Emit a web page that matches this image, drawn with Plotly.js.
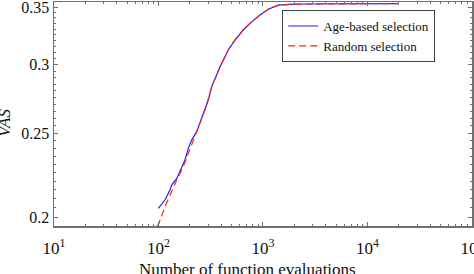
<!DOCTYPE html>
<html><head><meta charset="utf-8">
<script src="https://cdn.plot.ly/plotly-3.0.1.min.js"></script>
<style>html,body{margin:0;padding:0;background:#fff}#chart{width:474px;height:274px}</style>
</head><body><div id="chart"></div>
<script>
// Data
const ageX = [99.5,115.4,128.8,133.8,149.4,166.7,179.3,192.9,207.8,232.1,259.0,280.0,299.7,322.9,387.8,465.6,539.6,647.7,750.8,936.1,1123.5,1401,1800,2500,4000,8000,20000];
const ageY = [0.2047,0.2093,0.2149,0.2178,0.2217,0.2277,0.2328,0.2402,0.2456,0.2511,0.2602,0.2672,0.2732,0.2830,0.2985,0.3121,0.3205,0.3292,0.3351,0.3426,0.3479,0.3517,0.3525,0.3528,0.3530,0.3531,0.3532];
const randX = [96.7,99.5,115.4,128.8,149.4,172.7,192.9,215.3,240.4,278.6,322.9,387.8,465.6,539.6,647.7,750.8,936.1,1123.5,1401,1800,2500,4000,8000,20000];
const randY = [0.1953,0.1958,0.2056,0.2121,0.2207,0.2287,0.2370,0.2456,0.2533,0.2660,0.2828,0.2983,0.3123,0.3207,0.3293,0.3352,0.3427,0.3480,0.3516,0.3525,0.3528,0.3530,0.3531,0.3532];
const xTickVals = [10,100,1000,10000,100000];
const xTickText = ['10<sup>1</sup>','10<sup>2</sup>','10<sup>3</sup>','10<sup>4</sup>','10<sup>5</sup>'];
const yTickVals = [0.2,0.25,0.3,0.35];
const yTickText = ['0.2','0.25','0.3','0.35'];
const seriesNames = ['Age-based selection','Random selection'];
const xTitle = 'Number of function evaluations';
const yTitle = '<i>VAS</i>';

// minor tick positions (style)
const xMinor = [];
for (let e = 1; e < 5; e++) for (let d = 2; d <= 9; d++) xMinor.push(d * Math.pow(10, e));
const yMinor = [];
for (let v = 0.195; v < 0.356; v += 0.005) yMinor.push(+v.toFixed(3));

const font = 'Liberation Serif, Times New Roman, serif';
const axisCol = '#707070';

const traces = [
  {x: ageX, y: ageY, name: seriesNames[0], type: 'scatter', mode: 'lines',
   line: {color: '#2020ee', width: 1.2}},
  {x: randX, y: randY, name: seriesNames[1], type: 'scatter', mode: 'lines',
   line: {color: '#ff2020', width: 1.2, dash: '7px,4px'}}
];

const layout = {
  width: 474, height: 274,
  margin: {l: 54, r: 2, t: 2, b: 48},
  paper_bgcolor: '#fff', plot_bgcolor: '#fff',
  font: {family: font, color: '#111', size: 16},
  showlegend: true,
  legend: {x: 0.546, y: 0.964, xanchor: 'left', yanchor: 'top',
    bordercolor: '#444', borderwidth: 1, bgcolor: '#fff',
    font: {family: font, size: 13, color: '#111'}},
  xaxis: {type: 'log', range: [1, 5.0001], tickvals: xTickVals, ticktext: xTickText,
    ticks: 'inside', ticklen: 4, tickcolor: axisCol, showgrid: false, zeroline: false,
    showline: true, linecolor: axisCol, linewidth: 1.5, mirror: 'allticks',
    ticklabeloverflow: 'allow', ticklabelstandoff: 6,
    tickfont: {family: font, size: 17, color: '#111'},
    minor: {tickvals: xMinor, ticks: 'inside', ticklen: 2, tickcolor: axisCol, showgrid: false}},
  yaxis: {type: 'log', range: [Math.log10(0.1953), Math.log10(0.3547)],
    tickvals: yTickVals, ticktext: yTickText,
    ticks: 'inside', ticklen: 4, tickcolor: axisCol, showgrid: false, zeroline: false,
    showline: true, linecolor: axisCol, linewidth: 1.5, mirror: 'allticks',
    ticklabeloverflow: 'allow',
    tickfont: {family: font, size: 16, color: '#111'},
    minor: {tickvals: yMinor, ticks: 'inside', ticklen: 2, tickcolor: axisCol, showgrid: false}},
  annotations: [
    {text: xTitle, xref: 'paper', yref: 'paper', x: 0.464, y: -0.145,
     xanchor: 'center', yanchor: 'top', showarrow: false,
     font: {family: font, size: 17, color: '#111'}},
    {text: yTitle, xref: 'paper', yref: 'paper', x: -0.117, y: 0.46,
     xanchor: 'center', yanchor: 'middle', textangle: -90, showarrow: false,
     font: {family: font, size: 17, color: '#111'}}
  ]
};

Plotly.newPlot('chart', traces, layout, {displayModeBar: false, staticPlot: true});
</script>
</body></html>
